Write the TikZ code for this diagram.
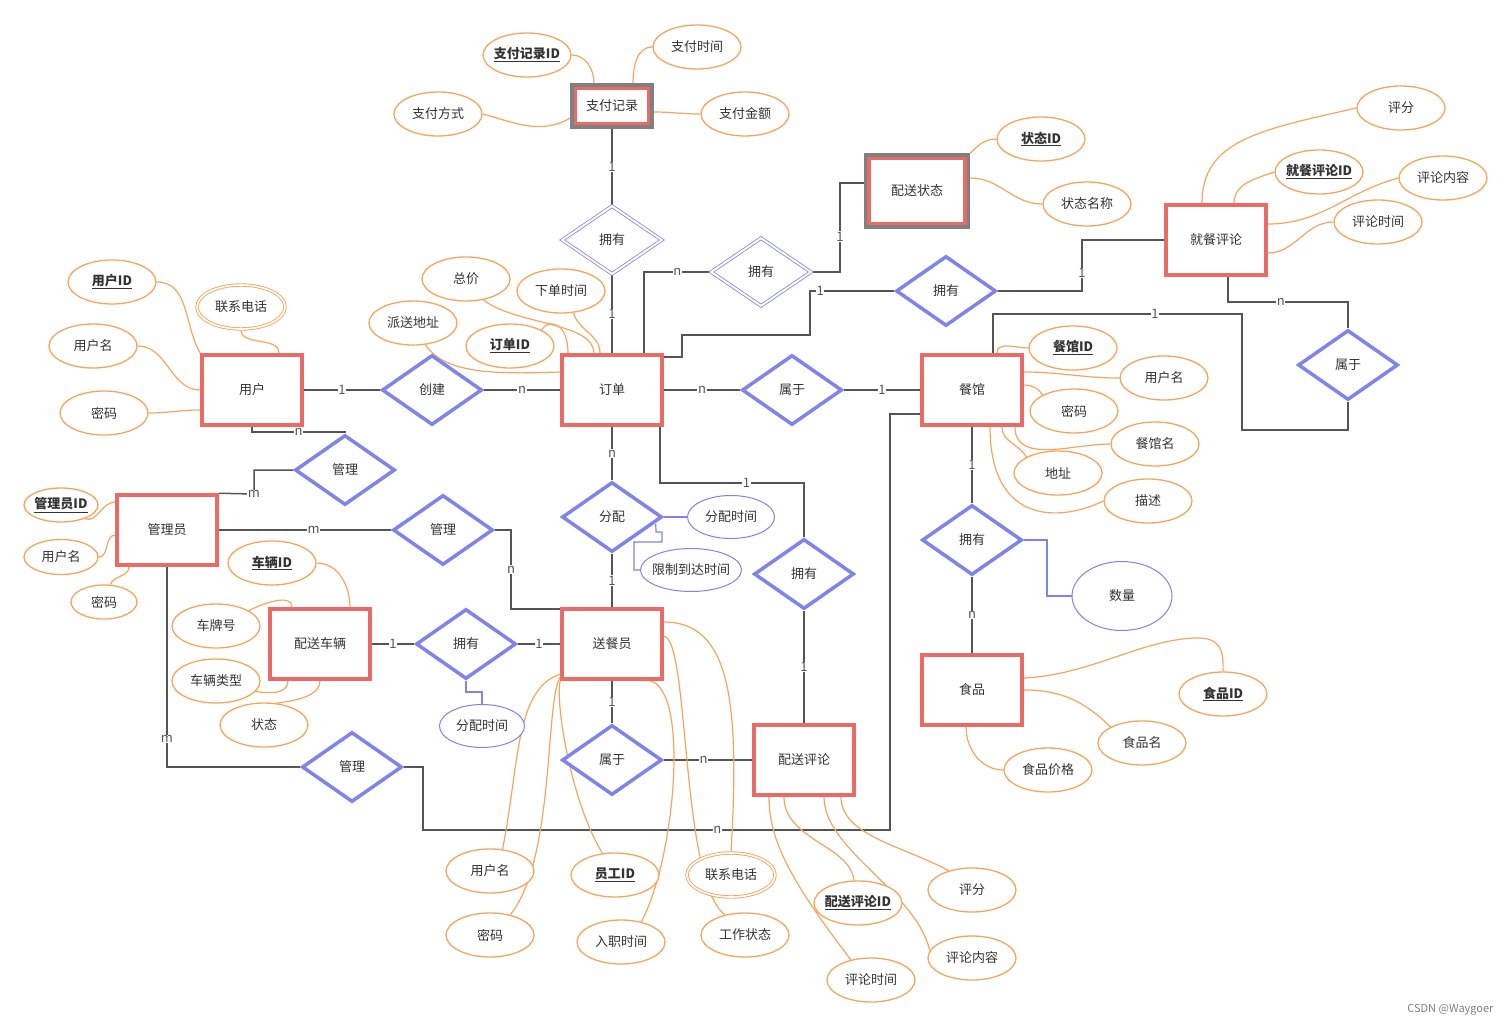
\documentclass[tikz,border=0pt]{standalone}
\usepackage{fontspec}
\setmainfont{Noto Sans CJK SC}
\usetikzlibrary{shapes.geometric}
\definecolor{ent}{HTML}{EA6B66}
\definecolor{wk}{HTML}{808080}
\definecolor{rel}{HTML}{7E84E8}
\definecolor{att}{HTML}{F4A65E}
\definecolor{ln}{HTML}{555555}
\definecolor{tx}{HTML}{333333}
\pgfdeclarelayer{back}
\pgfdeclarelayer{bg}
\pgfsetlayers{back,bg,main}
\begin{document}
\begin{tikzpicture}[x=1pt,y=-1pt,
  every node/.style={font=\fontsize{13}{15}\selectfont, text=tx},
  entity/.style={rectangle, draw=ent, line width=3.5pt, fill=white, minimum width=100pt, minimum height=70pt, inner sep=0pt},
  weak/.style={rectangle, draw=wk, line width=3.5pt, fill=white, inner sep=0pt},
  relbox/.style={diamond, draw=rel, line width=3.5pt, fill=white, minimum width=100pt, minimum height=70pt, inner sep=0pt},
  wrel/.style={diamond, draw=rel, line width=0.8pt, double=white, double distance=2pt, fill=white, minimum width=100pt, minimum height=68pt, inner sep=0pt},
  attr/.style={ellipse, draw=att, line width=1.3pt, fill=white, minimum width=88pt, minimum height=44pt, inner xsep=-20pt, inner ysep=0pt},
  mattr/.style={attr, double=white, double distance=1.6pt, line width=0.9pt},
  rattr/.style={attr, draw=rel, line width=1pt},
  conn/.style={draw=ln, line width=1.5pt},
  acon/.style={draw=att, line width=1.2pt},
  rcon/.style={draw=rel, line width=1.2pt},
  lbl/.style={fill=white, inner sep=0.6pt, font=\fontsize{13}{13}\selectfont, text=ln}
]
\useasboundingbox (0,0) rectangle (1512,1027);
\begin{pgfonlayer}{back}
\fill[white] (0,0) rectangle (1512,1027);
\end{pgfonlayer}

% entities
\node[weak, minimum width=80pt, minimum height=42pt] (pay) at (612,106) {支付记录};
\draw[ent, line width=3.5pt] ([shift={(5.25pt,-5.25pt)}]pay.north west) rectangle ([shift={(-5.25pt,5.25pt)}]pay.south east);
\node[weak, minimum width=103pt, minimum height=72pt] (dstat) at (917,191) {配送状态};
\draw[ent, line width=3.5pt] ([shift={(5.25pt,-5.25pt)}]dstat.north west) rectangle ([shift={(-5.25pt,5.25pt)}]dstat.south east);
\node[entity] (user) at (252,390) {用户};
\node[entity] (order) at (612,390) {订单};
\node[entity] (rest) at (972,390) {餐馆};
\node[entity] (dcom) at (1216,240) {就餐评论};
\node[entity] (admin) at (167,530) {管理员};
\node[entity] (car) at (320,644) {配送车辆};
\node[entity] (rider) at (612,644) {送餐员};
\node[entity] (pcom) at (804,760) {配送评论};
\node[entity] (food) at (972,690) {食品};

% relationships
\node[wrel] (r1) at (612,240) {拥有};
\node[wrel] (r2) at (761,272) {拥有};
\node[relbox] (r3) at (946,291) {拥有};
\node[relbox] (rc) at (432,390) {创建};
\node[relbox] (rb1) at (792,390) {属于};
\node[relbox] (rm1) at (345,470) {管理};
\node[relbox] (rm2) at (443,530) {管理};
\node[relbox] (rfp) at (612,517) {分配};
\node[relbox] (r4) at (804,574) {拥有};
\node[relbox] (r5) at (466,644) {拥有};
\node[relbox] (rb2) at (612,760) {属于};
\node[relbox] (rm3) at (352,767) {管理};
\node[relbox] (r6) at (972,540) {拥有};
\node[relbox] (rb3) at (1348,365) {属于};

% attributes
\node[attr] (a_payid) at (527,55) {\textbf{\underline{支付记录ID}}};
\node[attr] (a_paytime) at (697,47) {支付时间};
\node[attr] (a_payway) at (438,114) {支付方式};
\node[attr] (a_payamt) at (745,114) {支付金额};
\node[attr] (a_sid) at (1041,139) {\textbf{\underline{状态ID}}};
\node[attr] (a_sname) at (1087,204) {状态名称};
\node[attr] (a_dscore) at (1401,108) {评分};
\node[attr] (a_did) at (1319,172) {\textbf{\underline{就餐评论ID}}};
\node[attr] (a_dcon) at (1443,178) {评论内容};
\node[attr] (a_dtime) at (1378,222) {评论时间};
\node[attr] (a_uid) at (112,282) {\textbf{\underline{用户ID}}};
\node[mattr] (a_utel) at (241,307) {联系电话};
\node[attr] (a_uname) at (93,346) {用户名};
\node[attr] (a_upw) at (104,413) {密码};
\node[attr] (a_total) at (466,279) {总价};
\node[attr] (a_otime) at (561,291) {下单时间};
\node[attr] (a_addr) at (413,323) {派送地址};
\node[attr] (a_oid) at (510,346) {\textbf{\underline{订单ID}}};
\node[attr] (a_rid) at (1073,348) {\textbf{\underline{餐馆ID}}};
\node[attr] (a_rname) at (1164,378) {用户名};
\node[attr] (a_rpw) at (1074,411) {密码};
\node[attr] (a_rnm) at (1155,444) {餐馆名};
\node[attr] (a_raddr) at (1058,473) {地址};
\node[attr] (a_rdesc) at (1148,501) {描述};
\node[rattr, minimum width=100pt, minimum height=69pt] (t4) at (1122,596) {数量};
\node[attr] (a_fid) at (1223,694) {\textbf{\underline{食品ID}}};
\node[attr] (a_fname) at (1142,743) {食品名};
\node[attr] (a_fprice) at (1048,770) {食品价格};
\node[attr, minimum width=74pt, minimum height=34pt] (a_aid) at (61,505) {\textbf{\underline{管理员ID}}};
\node[attr, minimum width=74pt, minimum height=35pt] (a_aname) at (61,557) {用户名};
\node[attr, minimum width=66pt, minimum height=34pt] (a_apw) at (104,602) {密码};
\node[attr] (a_cid) at (272,563) {\textbf{\underline{车辆ID}}};
\node[attr] (a_cplate) at (216,626) {车牌号};
\node[attr] (a_ctype) at (216,681) {车辆类型};
\node[attr] (a_cstat) at (264,725) {状态};
\node[rattr, minimum width=85pt, minimum height=43pt] (t3) at (482,726) {分配时间};
\node[rattr, minimum width=87pt, minimum height=43pt] (t1) at (731,517) {分配时间};
\node[rattr, minimum width=101pt, minimum height=43pt] (t2) at (691,570) {限制到达时间};
\node[attr] (a_rnm2) at (490,871) {用户名};
\node[attr] (a_emp) at (615,875) {\textbf{\underline{员工ID}}};
\node[mattr] (a_tel2) at (731,875) {联系电话};
\node[attr] (a_rpw2) at (490,935) {密码};
\node[attr] (a_join) at (621,942) {入职时间};
\node[attr] (a_work) at (745,935) {工作状态};
\node[attr] (a_pid) at (858,903) {\textbf{\underline{配送评论ID}}};
\node[attr] (a_pscore) at (972,890) {评分};
\node[attr] (a_pcon) at (972,958) {评论内容};
\node[attr] (a_ptime) at (871,980) {评论时间};

\node[anchor=east, text=gray, font=\fontsize{11}{12}\selectfont] (wm) at (1497,1010) {CSDN @Waygoer};

\begin{pgfonlayer}{bg}
% connectors
\draw[conn] (pay.south) -- node[lbl]{1} (r1.north);
\draw[conn] (r1.south) -- node[lbl]{1} (order.north);
\draw[conn] ([xshift=32pt]order.north) |- node[lbl,pos=0.75]{n} (r2.west);
\draw[conn] (r2.east) -- (840,272) -- node[lbl,pos=0.4]{1} (840,183) -- ([yshift=8pt]dstat.west);
\draw[conn] (order.east |- 0,357) -- (682,357) -- (682,335) -- (810,335) -- (810,291) -- node[lbl,pos=0.12]{1} (r3.west);
\draw[conn] (r3.east) -- (1082,291) -- node[lbl,pos=0.35]{1} (1082,240) -- (dcom.west);
\draw[conn] ([xshift=12pt]dcom.south) |- node[lbl,pos=0.72]{n} (1348,302) -- (rb3.north);
\draw[conn] (rb3.south) -- (1348,430) -- (1242,430) -- (1242,314) -- node[lbl,pos=0.35]{1} (993,314) -- ([xshift=21pt]rest.north);
\draw[conn] (user.east) -- node[lbl]{1} (rc.west);
\draw[conn] (rc.east) -- node[lbl]{n} (order.west);
\draw[conn] (order.east) -- node[lbl]{n} (rb1.west);
\draw[conn] (rb1.east) -- node[lbl]{1} (rest.west);
\draw[conn] (user.south) |- node[lbl,pos=0.75]{n} (345,432) -- (rm1.north);
\draw[conn] (rm1.west) -| (254,494) node[lbl]{m} -- (admin.north east);
\draw[conn] (admin.east) -- node[lbl,pos=0.55]{m} (rm2.west);
\draw[conn] (rm2.east) -- (511,530) -- node[lbl]{n} (511,609) -- (rider.west |- 0,609);
\draw[conn] (order.south) -- node[lbl]{n} (rfp.north);
\draw[conn] (rfp.south) -- node[lbl]{1} (rider.north);
\draw[conn] ([xshift=48pt]order.south) |- node[lbl,pos=0.8]{1} (804,483) -- (r4.north);
\draw[conn] (r4.south) -- node[lbl]{1} (pcom.north);
\draw[conn] (car.east) -- node[lbl]{1} (r5.west);
\draw[conn] (r5.east) -- node[lbl]{1} (rider.west);
\draw[conn] (rider.south) -- node[lbl]{1} (rb2.north);
\draw[conn] (rb2.east) -- node[lbl,pos=0.45]{n} (pcom.west);
\draw[conn] (admin.south) |- node[lbl,pos=0.43]{m} (rm3.west);
\draw[conn] (rm3.east) -- (423,767) -- (423,830) -- node[lbl,pos=0.63]{n} (890,830) -- (890,414) -- (rest.west |- 0,414);
\draw[conn] (rest.south) -- node[lbl]{1} (r6.north);
\draw[conn] (r6.south) -- node[lbl]{n} (food.north);

% relationship attribute lines
\draw[rcon] (rfp.east) -- (t1.west);
\coordinate (fpk) at ([shift={(-8pt,-7pt)}]rfp.east);
\draw[rcon] (fpk) -- (656,532) -- (662,532) -- (662,542) -- (634,542) -- (634,570) -- (t2.west);
\draw[rcon] (r5.south) |- (482,692) -- (t3.north);
\draw[rcon] (r6.east) -| (1047,596) -- (t4.west);

% attribute curves
\draw[acon] (a_payid.east) to[out=0,in=90] ([xshift=-18pt]pay.north);
\draw[acon] (a_paytime.west) to[out=180,in=90] ([xshift=21pt]pay.north);
\draw[acon] (a_payway.east) to[out=-15,in=210] ([yshift=-12pt]pay.west);
\draw[acon] (a_payamt.west) to[out=180,in=0] ([yshift=-6pt]pay.east);
\draw[acon] (a_sid.west) to[out=180,in=45] (dstat.north east);
\draw[acon] (a_sname.west) to[out=180,in=0] ([yshift=13pt]dstat.east);
\draw[acon] (a_dscore.west) .. controls (1260,130) and (1202,140) .. ([xshift=-14pt]dcom.north);
\draw[acon] (a_did.west) to[out=200,in=90] ([xshift=18pt]dcom.north);
\draw[acon] (a_dcon.west) to[out=195,in=0] ([yshift=16pt]dcom.east);
\draw[acon] (a_dtime.west) to[out=180,in=0] ([yshift=-13pt]dcom.east);
\draw[acon] (a_uid.east) to[out=0,in=120] (user.north west);
\draw[acon] (a_utel.south) to[out=-90,in=90] ([xshift=27pt]user.north);
\draw[acon] (a_uname.east) to[out=0,in=180] (user.west);
\draw[acon] (a_upw.east) to[out=0,in=180] ([yshift=-20pt]user.west);
\draw[acon] (a_total.-50) .. controls (515,325) and (594,322) .. ([xshift=-18pt]order.north);
\draw[acon] (a_otime.-60) to[out=-75,in=90] ([xshift=-12pt]order.north);
\draw[acon] (a_addr.-60) .. controls (445,375) and (500,374) .. ([yshift=18pt]order.west);
\draw[acon] (a_oid.north east) .. controls (548,318) and (568,322) .. ([xshift=-44pt]order.north);
\draw[acon] (a_rid.west) to[out=180,in=90] ([xshift=25pt]rest.north);
\draw[acon] (a_rname.west) to[out=180,in=0] ([yshift=18pt]rest.east);
\draw[acon] (a_rpw.north west) to[out=120,in=0] ([yshift=5pt]rest.east);
\draw[acon] (a_rnm.west) to[out=180,in=-90] ([xshift=43pt]rest.south);
\draw[acon] (a_raddr.north west) to[out=120,in=-90] ([xshift=30pt]rest.south);
\draw[acon] (a_rdesc.west) .. controls (1060,522) and (990,525) .. ([xshift=18pt]rest.south);
\draw[acon] ([yshift=12pt]food.east) .. controls (1090,675) and (1140,640) .. (1195,638) .. controls (1220,637) and (1224,650) .. (a_fid.north);
\draw[acon] (food.east) to[out=0,in=135] (a_fname.north west);
\draw[acon] (a_fprice.west) to[out=180,in=-90] ([xshift=-6pt]food.south);
\draw[acon] (a_aid.-30) to[out=-20,in=180] ([yshift=28pt]admin.west);
\draw[acon] (a_aname.east) to[out=0,in=180] ([yshift=-5pt]admin.west);
\draw[acon] (a_apw.70) to[out=70,in=-90] ([xshift=-38pt]admin.south);
\draw[acon] (a_cid.east) to[out=0,in=90] ([xshift=30pt]car.north);
\draw[acon] (a_cplate.25) .. controls (270,600) and (292,595) .. ([xshift=-28pt]car.north);
\draw[acon] (a_ctype.-15) .. controls (280,695) and (288,690) .. ([xshift=-32pt]car.south);
\draw[acon] (a_cstat.60) .. controls (300,700) and (320,695) .. (car.south);
\draw[acon] (a_rnm2.60) .. controls (520,760) and (515,690) .. ([yshift=-30pt]rider.west);
\draw[acon] (a_rpw2.45) .. controls (555,860) and (545,700) .. ([yshift=-33pt]rider.west);
\draw[acon] (a_emp.120) .. controls (570,800) and (555,700) .. (rider.south west);
\draw[acon] (a_join.45) .. controls (675,860) and (690,690) .. ([xshift=38pt]rider.south);
\draw[acon] (a_tel2.north) .. controls (740,700) and (730,622) .. ([yshift=22pt]rider.east);
\draw[acon] (a_work.135) .. controls (680,880) and (690,640) .. ([yshift=8pt]rider.east);
\draw[acon] (a_ptime.135) .. controls (790,880) and (769,840) .. ([xshift=-35pt]pcom.south);
\draw[acon] (a_pid.100) .. controls (850,845) and (784,840) .. ([xshift=-20pt]pcom.south);
\draw[acon] (a_pcon.170) .. controls (915,890) and (824,850) .. ([xshift=20pt]pcom.south);
\draw[acon] (a_pscore.140) .. controls (900,845) and (841,835) .. ([xshift=37pt]pcom.south);
\end{pgfonlayer}
\end{tikzpicture}
\end{document}
